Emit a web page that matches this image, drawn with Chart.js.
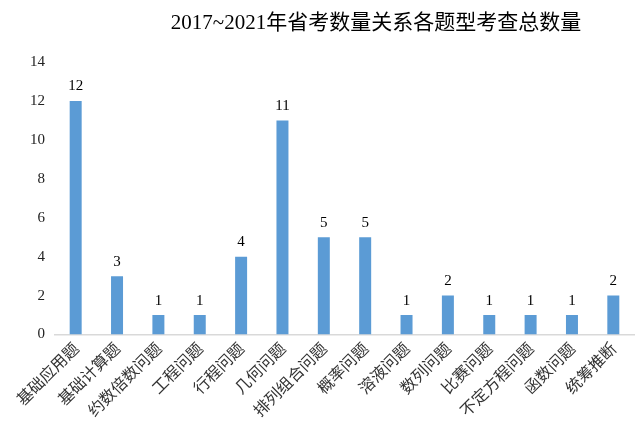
<!DOCTYPE html>
<html><head><meta charset="utf-8">
<script src="https://cdn.jsdelivr.net/npm/chart.js@4.4.0/dist/chart.umd.min.js"></script>
<style>html,body{margin:0;padding:0;background:#fff}canvas{display:block}</style>
</head><body>
<canvas id="c" width="640" height="429"></canvas>
<script>
const titleText = '2017~2021年省考数量关系各题型考查总数量';
const categories = ['基础应用题','基础计算题','约数倍数问题','工程问题','行程问题','几何问题','排列组合问题','概率问题','溶液问题','数列问题','比赛问题','不定方程问题','函数问题','统筹推断'];
const counts = [12,3,1,1,4,11,5,5,1,2,1,1,1,2];
const yTicks = [0,2,4,6,8,10,12,14];

const serif = "'Liberation Serif','Noto Sans CJK SC',serif";
const cjk = "'Noto Sans CJK SC','Liberation Serif',sans-serif";

const labelPlugin = {
  id: 'valueLabels',
  afterDatasetsDraw(chart) {
    const ctx = chart.ctx;
    const meta = chart.getDatasetMeta(0);
    ctx.save();
    ctx.font = "15px " + serif;
    ctx.fillStyle = '#000';
    ctx.textAlign = 'center';
    ctx.textBaseline = 'bottom';
    meta.data.forEach((bar, i) => {
      ctx.fillText(String(counts[i]), bar.x, bar.y - 7);
    });
    ctx.restore();
  }
};
const titlePlugin = {
  id: 'customTitle',
  afterDraw(chart) {
    const ctx = chart.ctx;
    ctx.save();
    ctx.font = "21px " + serif;
    ctx.fillStyle = '#000';
    ctx.textAlign = 'center';
    ctx.textBaseline = 'middle';
    ctx.fillText(titleText, 376, 23);
    ctx.restore();
  }
};

new Chart(document.getElementById('c'), {
  type: 'bar',
  data: {
    labels: categories,
    datasets: [{
      data: counts,
      backgroundColor: '#5B9BD5',
      barPercentage: 0.29,
      categoryPercentage: 1.0
    }]
  },
  options: {
    responsive: false,
    devicePixelRatio: 1,
    animation: false,
    layout: { padding: { top: 62, right: 6, bottom: 5, left: 20 } },
    plugins: { legend: { display: false }, tooltip: { enabled: false }, title: { display: false } },
    scales: {
      x: {
        grid: { display: false, drawTicks: false },
        border: { display: true, color: '#D9D9D9', width: 1.5 },
        ticks: {
          color: '#333',
          font: { family: cjk, size: 16 },
          maxRotation: 45, minRotation: 45,
          autoSkip: false,
          padding: 4
        }
      },
      y: {
        min: 0, max: 14,
        afterBuildTicks(scale) { scale.ticks = yTicks.map(v => ({ value: v })); },
        grid: { display: false, drawTicks: false },
        border: { display: false },
        ticks: {
          color: '#222',
          font: { family: serif, size: 15 },
          padding: 10
        }
      }
    }
  },
  plugins: [labelPlugin, titlePlugin]
});
</script>
</body></html>
